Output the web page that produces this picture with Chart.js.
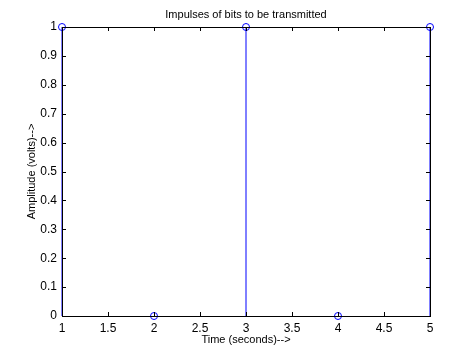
<!DOCTYPE html>
<html>
<head>
<meta charset="utf-8">
<script src="https://cdn.jsdelivr.net/npm/chart.js@4"></script>
<style>
  body { margin: 0; background: #fff; }
  canvas { display: block; }
</style>
</head>
<body>
<canvas id="impulse-chart" width="474" height="355"></canvas>
<script>
// bit impulses
const times = [1, 2, 3, 4, 5];
const bits = [1, 0, 1, 0, 1];
const xTicks = [1, 1.5, 2, 2.5, 3, 3.5, 4, 4.5, 5];
const yTicks = [0, 0.1, 0.2, 0.3, 0.4, 0.5, 0.6, 0.7, 0.8, 0.9, 1];

const FONT = 'Liberation Sans, Arial, sans-serif';
const BLUE = '#0000ff';

// stem lines: 0 -> value, broken with nulls
const stemData = [];
times.forEach((t, i) => {
  stemData.push({x: t, y: 0}, {x: t, y: bits[i]}, {x: t, y: null});
});

// MATLAB-ish box with inward ticks
const boxPlugin = {
  id: 'box',
  afterDatasetsDraw(chart) {
    const {ctx, chartArea: a, scales} = chart;
    ctx.save();
    ctx.strokeStyle = '#000';
    ctx.lineWidth = 1;
    ctx.strokeRect(Math.round(a.left) + 0.5, Math.round(a.top) + 0.5,
      Math.round(a.right - a.left), Math.round(a.bottom - a.top));
    ctx.beginPath();
    xTicks.forEach(v => {
      const px = Math.round(scales.x.getPixelForValue(v)) + 0.5;
      ctx.moveTo(px, a.bottom); ctx.lineTo(px, a.bottom - 4);
      ctx.moveTo(px, a.top); ctx.lineTo(px, a.top + 4);
    });
    yTicks.forEach(v => {
      const py = Math.round(scales.y.getPixelForValue(v)) + 0.5;
      ctx.moveTo(a.left, py); ctx.lineTo(a.left + 4, py);
      ctx.moveTo(a.right, py); ctx.lineTo(a.right - 4, py);
    });
    ctx.stroke();
    ctx.restore();
  }
};

const ctx = document.getElementById('impulse-chart').getContext('2d');
new Chart(ctx, {
  type: 'scatter',
  data: {
    datasets: [{
      // stems
      type: 'line',
      data: stemData,
      borderColor: BLUE,
      borderWidth: 1,
      pointRadius: 0,
      spanGaps: false,
      order: 2
    }, {
      // markers
      data: times.map((t, i) => ({x: t, y: bits[i]})),
      pointStyle: 'circle',
      pointRadius: 3.5,
      pointBorderColor: BLUE,
      pointBackgroundColor: 'rgba(0,0,0,0)',
      pointBorderWidth: 1,
      order: 1
    }]
  },
  options: {
    responsive: false,
    animation: false,
    clip: false,
    layout: { padding: {left: 0, right: 44, top: 0, bottom: 0} },
    plugins: {
      legend: { display: false },
      tooltip: { enabled: false },
      title: {
        display: true,
        fullSize: false,
        text: 'Impulses of bits to be transmitted',
        color: '#000',
        font: { family: FONT, size: 11, weight: 'normal' },
        padding: { top: 8, bottom: 5.8 }
      }
    },
    scales: {
      x: {
        type: 'linear',
        min: 1, max: 5,
        afterBuildTicks: s => { s.ticks = xTicks.map(v => ({value: v})); },
        afterFit: s => { s.height = 39; },
        grid: { display: false, drawTicks: false },
        border: { display: false },
        ticks: { color: '#000', padding: 5, maxRotation: 0, font: { family: FONT, size: 12 },
          callback: v => String(v) },
        title: {
          display: true, text: 'Time (seconds)-->', color: '#000',
          font: { family: FONT, size: 11 }, padding: { top: 0, bottom: 8 }
        }
      },
      y: {
        min: 0, max: 1,
        afterBuildTicks: s => { s.ticks = yTicks.map(v => ({value: v})); },
        afterFit: s => { s.width = 62; },
        grid: { display: false, drawTicks: false },
        border: { display: false },
        ticks: { color: '#000', padding: 5, font: { family: FONT, size: 12 },
          callback: v => String(v) },
        title: {
          display: true, text: 'Amplitude (volts)-->', color: '#000',
          font: { family: FONT, size: 11 }, padding: { top: 25, bottom: 0 }
        }
      }
    }
  },
  plugins: [boxPlugin]
});
</script>
</body>
</html>
